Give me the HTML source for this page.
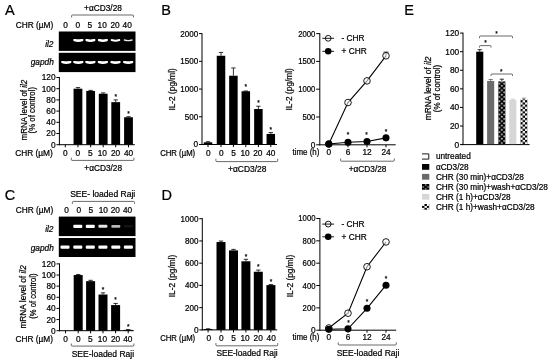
<!DOCTYPE html>
<html><head><meta charset="utf-8"><title>Figure</title>
<style>
html,body{margin:0;padding:0;background:#fff;}
svg{display:block;filter:blur(0.3px);font-family:"Liberation Sans",sans-serif;}
text{fill:#000;stroke:#000;stroke-width:0.22px;}
</style></head><body>
<svg width="550" height="363" viewBox="0 0 550 363">
<defs>
<filter id="b" x="-20%" y="-100%" width="140%" height="300%"><feGaussianBlur stdDeviation="0.45"/></filter>
<pattern id="chk1" width="2.4" height="2.4" patternUnits="userSpaceOnUse"><rect width="2.4" height="2.4" fill="#000"/><rect x="0" y="0" width="1.2" height="1.2" fill="#aaa"/><rect x="1.2" y="1.2" width="1.2" height="1.2" fill="#aaa"/></pattern>
<pattern id="chk2" width="3" height="3" patternUnits="userSpaceOnUse"><rect width="3" height="3" fill="#fff"/><rect x="0" y="0" width="1.5" height="1.5" fill="#000"/><rect x="1.5" y="1.5" width="1.5" height="1.5" fill="#000"/></pattern>
</defs>
<rect width="550" height="363" fill="#fff"/>
<text x="5.1" y="15.1" font-size="14.5" text-anchor="start" >A</text>
<text x="161.3" y="15.1" font-size="14.5" text-anchor="start" >B</text>
<text x="404.2" y="15.3" font-size="14.5" text-anchor="start" >E</text>
<text x="4.7" y="199.6" font-size="14.5" text-anchor="start" >C</text>
<text x="161.5" y="199.7" font-size="14.5" text-anchor="start" >D</text>
<text x="103.0" y="10.6" font-size="8.3" text-anchor="middle" >+αCD3/28</text>
<path d="M71.6,17.5 V15.9 Q71.6,15.0 72.5,15.0 H132.6 Q133.5,15.0 133.5,15.9 V17.5" fill="none" stroke="#2a2a2a" stroke-width="0.7"/>
<text x="15.8" y="27.9" font-size="8.3" text-anchor="start" >CHR (µM)</text>
<text x="65.5" y="27.9" font-size="8.3" text-anchor="middle" >0</text>
<text x="77.7" y="27.9" font-size="8.3" text-anchor="middle" >0</text>
<text x="89.8" y="27.9" font-size="8.3" text-anchor="middle" >5</text>
<text x="102.2" y="27.9" font-size="8.3" text-anchor="middle" >10</text>
<text x="115" y="27.9" font-size="8.3" text-anchor="middle" >20</text>
<text x="127.2" y="27.9" font-size="8.3" text-anchor="middle" >40</text>
<rect x="58.80" y="31.50" width="76.70" height="19.40" fill="#000" />
<rect x="58.80" y="52.80" width="76.70" height="19.30" fill="#000" />
<text x="53.5" y="46.9" font-size="8.3" text-anchor="end" font-style="italic">il2</text>
<text x="53.8" y="65.4" font-size="8.3" text-anchor="end" font-style="italic">gapdh</text>
<path d="M74.50,40.00 Q78.30,41.30 82.10,40.00" fill="none" stroke="#fff" stroke-width="2.6" stroke-linecap="round" opacity="1" filter="url(#b)"/>
<path d="M86.60,40.00 Q90.40,41.30 94.20,40.00" fill="none" stroke="#fff" stroke-width="2.5" stroke-linecap="round" opacity="1" filter="url(#b)"/>
<path d="M99.10,40.00 Q102.90,41.30 106.70,40.00" fill="none" stroke="#fff" stroke-width="2.5" stroke-linecap="round" opacity="1" filter="url(#b)"/>
<path d="M111.70,40.00 Q115.50,41.30 119.30,40.00" fill="none" stroke="#fff" stroke-width="2.0" stroke-linecap="round" opacity="1" filter="url(#b)"/>
<path d="M124.40,40.00 Q128.20,41.30 132.00,40.00" fill="none" stroke="#fff" stroke-width="1.4" stroke-linecap="round" opacity="0.9" filter="url(#b)"/>
<path d="M62.50,62.00 Q66.30,63.30 70.10,62.00" fill="none" stroke="#fff" stroke-width="2.7" stroke-linecap="round" opacity="1" filter="url(#b)"/>
<path d="M74.50,62.00 Q78.30,63.30 82.10,62.00" fill="none" stroke="#fff" stroke-width="2.7" stroke-linecap="round" opacity="1" filter="url(#b)"/>
<path d="M86.60,62.00 Q90.40,63.30 94.20,62.00" fill="none" stroke="#fff" stroke-width="2.7" stroke-linecap="round" opacity="1" filter="url(#b)"/>
<path d="M99.10,62.00 Q102.90,63.30 106.70,62.00" fill="none" stroke="#fff" stroke-width="2.7" stroke-linecap="round" opacity="1" filter="url(#b)"/>
<path d="M111.70,62.00 Q115.50,63.30 119.30,62.00" fill="none" stroke="#fff" stroke-width="2.7" stroke-linecap="round" opacity="1" filter="url(#b)"/>
<path d="M124.40,62.00 Q128.20,63.30 132.00,62.00" fill="none" stroke="#fff" stroke-width="2.7" stroke-linecap="round" opacity="1" filter="url(#b)"/>
<text x="102.7" y="196.9" font-size="8.55" text-anchor="middle" >SEE- loaded Raji</text>
<path d="M72.4,203.9 V202.3 Q72.4,201.4 73.30000000000001,201.4 H133.6 Q134.5,201.4 134.5,202.3 V203.9" fill="none" stroke="#2a2a2a" stroke-width="0.7"/>
<text x="15.8" y="212.9" font-size="8.3" text-anchor="start" >CHR (µM)</text>
<text x="66.5" y="212.9" font-size="8.3" text-anchor="middle" >0</text>
<text x="78.9" y="212.9" font-size="8.3" text-anchor="middle" >0</text>
<text x="90.8" y="212.9" font-size="8.3" text-anchor="middle" >5</text>
<text x="103.3" y="212.9" font-size="8.3" text-anchor="middle" >10</text>
<text x="115.3" y="212.9" font-size="8.3" text-anchor="middle" >20</text>
<text x="127.6" y="212.9" font-size="8.3" text-anchor="middle" >40</text>
<rect x="58.80" y="216.60" width="76.70" height="19.50" fill="#000" />
<rect x="58.80" y="238.00" width="76.70" height="19.00" fill="#000" />
<text x="53.5" y="232.2" font-size="8.3" text-anchor="end" font-style="italic">il2</text>
<text x="53.8" y="251.2" font-size="8.3" text-anchor="end" font-style="italic">gapdh</text>
<rect x="73.30" y="224.70" width="9" height="3.2" rx="1" fill="#fff" opacity="1" filter="url(#b)"/>
<rect x="85.80" y="224.70" width="9" height="3.2" rx="1" fill="#fff" opacity="1" filter="url(#b)"/>
<rect x="98.40" y="224.80" width="9" height="3.0" rx="1" fill="#fff" opacity="0.9" filter="url(#b)"/>
<rect x="111.30" y="224.90" width="9" height="2.8" rx="1" fill="#fff" opacity="0.72" filter="url(#b)"/>
<rect x="123.90" y="225.05" width="9" height="2.5" rx="1" fill="#fff" opacity="0.08" filter="url(#b)"/>
<rect x="60.50" y="245.55" width="9" height="3.3" rx="1" fill="#fff" opacity="1" filter="url(#b)"/>
<rect x="73.30" y="245.55" width="9" height="3.3" rx="1" fill="#fff" opacity="1" filter="url(#b)"/>
<rect x="85.80" y="245.55" width="9" height="3.3" rx="1" fill="#fff" opacity="1" filter="url(#b)"/>
<rect x="98.40" y="245.55" width="9" height="3.3" rx="1" fill="#fff" opacity="1" filter="url(#b)"/>
<rect x="111.30" y="245.55" width="9" height="3.3" rx="1" fill="#fff" opacity="1" filter="url(#b)"/>
<rect x="123.90" y="245.55" width="9" height="3.3" rx="1" fill="#fff" opacity="1" filter="url(#b)"/>
<rect x="60.90" y="144.70" width="8.80" height="0.00" fill="#000" />
<rect x="73.55" y="88.70" width="8.80" height="56.00" fill="#000" />
<line x1="77.95" y1="88.69999999999999" x2="77.95" y2="87.57999999999998" stroke="#000" stroke-width="0.8"/>
<line x1="75.75" y1="87.57999999999998" x2="80.15" y2="87.57999999999998" stroke="#000" stroke-width="0.8"/>
<rect x="86.25" y="90.94" width="8.80" height="53.76" fill="#000" />
<line x1="90.65" y1="90.94" x2="90.65" y2="90.38" stroke="#000" stroke-width="0.8"/>
<line x1="88.45" y1="90.38" x2="92.85000000000001" y2="90.38" stroke="#000" stroke-width="0.8"/>
<rect x="98.80" y="93.74" width="8.80" height="50.96" fill="#000" />
<line x1="103.2" y1="93.74" x2="103.2" y2="92.89999999999999" stroke="#000" stroke-width="0.8"/>
<line x1="101.0" y1="92.89999999999999" x2="105.4" y2="92.89999999999999" stroke="#000" stroke-width="0.8"/>
<rect x="111.30" y="102.14" width="8.80" height="42.56" fill="#000" />
<line x1="115.7" y1="102.13999999999999" x2="115.7" y2="99.89999999999999" stroke="#000" stroke-width="0.8"/>
<line x1="113.5" y1="99.89999999999999" x2="117.9" y2="99.89999999999999" stroke="#000" stroke-width="0.8"/>
<rect x="124.10" y="117.26" width="8.80" height="27.44" fill="#000" />
<line x1="128.5" y1="117.25999999999999" x2="128.5" y2="116.69999999999999" stroke="#000" stroke-width="0.8"/>
<line x1="126.3" y1="116.69999999999999" x2="130.7" y2="116.69999999999999" stroke="#000" stroke-width="0.8"/>
<line x1="59.4" y1="77.0" x2="59.4" y2="145.2" stroke="#000" stroke-width="1.0"/>
<line x1="56.4" y1="144.7" x2="59.4" y2="144.7" stroke="#000" stroke-width="1.0"/>
<text x="55.6" y="147.688" font-size="8.3" text-anchor="end" >0</text>
<line x1="56.4" y1="133.5" x2="59.4" y2="133.5" stroke="#000" stroke-width="1.0"/>
<text x="55.6" y="136.488" font-size="8.3" text-anchor="end" >20</text>
<line x1="56.4" y1="122.29999999999998" x2="59.4" y2="122.29999999999998" stroke="#000" stroke-width="1.0"/>
<text x="55.6" y="125.28799999999998" font-size="8.3" text-anchor="end" >40</text>
<line x1="56.4" y1="111.1" x2="59.4" y2="111.1" stroke="#000" stroke-width="1.0"/>
<text x="55.6" y="114.088" font-size="8.3" text-anchor="end" >60</text>
<line x1="56.4" y1="99.89999999999999" x2="59.4" y2="99.89999999999999" stroke="#000" stroke-width="1.0"/>
<text x="55.6" y="102.88799999999999" font-size="8.3" text-anchor="end" >80</text>
<line x1="56.4" y1="88.69999999999999" x2="59.4" y2="88.69999999999999" stroke="#000" stroke-width="1.0"/>
<text x="55.6" y="91.68799999999999" font-size="8.3" text-anchor="end" >100</text>
<line x1="56.4" y1="77.5" x2="59.4" y2="77.5" stroke="#000" stroke-width="1.0"/>
<text x="55.6" y="80.488" font-size="8.3" text-anchor="end" >120</text>
<line x1="58.9" y1="144.7" x2="134.8" y2="144.7" stroke="#000" stroke-width="1.0"/>
<line x1="65.3" y1="144.7" x2="65.3" y2="147.29999999999998" stroke="#000" stroke-width="1.0"/>
<line x1="77.95" y1="144.7" x2="77.95" y2="147.29999999999998" stroke="#000" stroke-width="1.0"/>
<line x1="90.65" y1="144.7" x2="90.65" y2="147.29999999999998" stroke="#000" stroke-width="1.0"/>
<line x1="103.2" y1="144.7" x2="103.2" y2="147.29999999999998" stroke="#000" stroke-width="1.0"/>
<line x1="115.7" y1="144.7" x2="115.7" y2="147.29999999999998" stroke="#000" stroke-width="1.0"/>
<line x1="128.5" y1="144.7" x2="128.5" y2="147.29999999999998" stroke="#000" stroke-width="1.0"/>
<text x="115.7" y="99.44" font-size="6.5" text-anchor="middle" >*</text>
<text x="128.5" y="116.24" font-size="6.5" text-anchor="middle" >*</text>
<text transform="translate(26.5,110.1) rotate(-90)" font-size="8.3" text-anchor="middle" textLength="60.6" lengthAdjust="spacingAndGlyphs">mRNA level of <tspan font-style="italic">il2</tspan></text>
<text transform="translate(35.4,110.2) rotate(-90)" font-size="8.3" text-anchor="middle" textLength="46.4" lengthAdjust="spacingAndGlyphs">(% of control)</text>
<text x="15.2" y="156.0" font-size="8.3" text-anchor="start" >CHR (µM)</text>
<text x="65.2" y="156.0" font-size="8.3" text-anchor="middle" >0</text>
<text x="77.8" y="156.0" font-size="8.3" text-anchor="middle" >0</text>
<text x="90.2" y="156.0" font-size="8.3" text-anchor="middle" >5</text>
<text x="102.3" y="156.0" font-size="8.3" text-anchor="middle" >10</text>
<text x="115.5" y="156.0" font-size="8.3" text-anchor="middle" >20</text>
<text x="128.6" y="156.0" font-size="8.3" text-anchor="middle" >40</text>
<path d="M71.3,157.70000000000002 V159.5 Q71.3,160.4 72.2,160.4 H133.0 Q133.9,160.4 133.9,159.5 V157.70000000000002" fill="none" stroke="#2a2a2a" stroke-width="0.7"/>
<text x="103.2" y="171.4" font-size="8.3" text-anchor="middle" >+αCD3/28</text>
<rect x="61.00" y="330.70" width="9.00" height="0.00" fill="#000" />
<rect x="73.70" y="275.03" width="9.00" height="55.67" fill="#000" />
<line x1="78.2" y1="275.0333333333333" x2="78.2" y2="274.47666666666663" stroke="#000" stroke-width="0.8"/>
<line x1="76.0" y1="274.47666666666663" x2="80.4" y2="274.47666666666663" stroke="#000" stroke-width="0.8"/>
<rect x="86.10" y="281.16" width="9.00" height="49.54" fill="#000" />
<line x1="90.6" y1="281.15666666666664" x2="90.6" y2="280.32166666666666" stroke="#000" stroke-width="0.8"/>
<line x1="88.39999999999999" y1="280.32166666666666" x2="92.8" y2="280.32166666666666" stroke="#000" stroke-width="0.8"/>
<rect x="98.50" y="294.52" width="9.00" height="36.18" fill="#000" />
<line x1="103.0" y1="294.51666666666665" x2="103.0" y2="292.84666666666664" stroke="#000" stroke-width="0.8"/>
<line x1="100.8" y1="292.84666666666664" x2="105.2" y2="292.84666666666664" stroke="#000" stroke-width="0.8"/>
<rect x="111.10" y="305.09" width="9.00" height="25.61" fill="#000" />
<line x1="115.6" y1="305.0933333333333" x2="115.6" y2="303.4233333333333" stroke="#000" stroke-width="0.8"/>
<line x1="113.39999999999999" y1="303.4233333333333" x2="117.8" y2="303.4233333333333" stroke="#000" stroke-width="0.8"/>
<rect x="123.70" y="329.87" width="9.00" height="0.83" fill="#000" />
<line x1="128.2" y1="329.865" x2="128.2" y2="329.5866666666667" stroke="#000" stroke-width="0.8"/>
<line x1="125.99999999999999" y1="329.5866666666667" x2="130.39999999999998" y2="329.5866666666667" stroke="#000" stroke-width="0.8"/>
<line x1="59.5" y1="263.4" x2="59.5" y2="331.2" stroke="#000" stroke-width="1.0"/>
<line x1="56.5" y1="330.7" x2="59.5" y2="330.7" stroke="#000" stroke-width="1.0"/>
<text x="55.7" y="333.688" font-size="8.3" text-anchor="end" >0</text>
<line x1="56.5" y1="319.56666666666666" x2="59.5" y2="319.56666666666666" stroke="#000" stroke-width="1.0"/>
<text x="55.7" y="322.55466666666666" font-size="8.3" text-anchor="end" >20</text>
<line x1="56.5" y1="308.43333333333334" x2="59.5" y2="308.43333333333334" stroke="#000" stroke-width="1.0"/>
<text x="55.7" y="311.42133333333334" font-size="8.3" text-anchor="end" >40</text>
<line x1="56.5" y1="297.29999999999995" x2="59.5" y2="297.29999999999995" stroke="#000" stroke-width="1.0"/>
<text x="55.7" y="300.28799999999995" font-size="8.3" text-anchor="end" >60</text>
<line x1="56.5" y1="286.16666666666663" x2="59.5" y2="286.16666666666663" stroke="#000" stroke-width="1.0"/>
<text x="55.7" y="289.1546666666666" font-size="8.3" text-anchor="end" >80</text>
<line x1="56.5" y1="275.0333333333333" x2="59.5" y2="275.0333333333333" stroke="#000" stroke-width="1.0"/>
<text x="55.7" y="278.0213333333333" font-size="8.3" text-anchor="end" >100</text>
<line x1="56.5" y1="263.9" x2="59.5" y2="263.9" stroke="#000" stroke-width="1.0"/>
<text x="55.7" y="266.888" font-size="8.3" text-anchor="end" >120</text>
<line x1="59.0" y1="330.7" x2="133.8" y2="330.7" stroke="#000" stroke-width="1.0"/>
<line x1="65.5" y1="330.7" x2="65.5" y2="333.3" stroke="#000" stroke-width="1.0"/>
<line x1="78.2" y1="330.7" x2="78.2" y2="333.3" stroke="#000" stroke-width="1.0"/>
<line x1="90.6" y1="330.7" x2="90.6" y2="333.3" stroke="#000" stroke-width="1.0"/>
<line x1="103.0" y1="330.7" x2="103.0" y2="333.3" stroke="#000" stroke-width="1.0"/>
<line x1="115.6" y1="330.7" x2="115.6" y2="333.3" stroke="#000" stroke-width="1.0"/>
<line x1="128.2" y1="330.7" x2="128.2" y2="333.3" stroke="#000" stroke-width="1.0"/>
<text x="103.0" y="291.58" font-size="6.5" text-anchor="middle" >*</text>
<text x="115.6" y="302.46" font-size="6.5" text-anchor="middle" >*</text>
<text x="128.2" y="328.62" font-size="6.5" text-anchor="middle" >*</text>
<text transform="translate(26.3,296.9) rotate(-90)" font-size="8.3" text-anchor="middle" textLength="63.4" lengthAdjust="spacingAndGlyphs">mRNA level of <tspan font-style="italic">il2</tspan></text>
<text transform="translate(35.6,296.1) rotate(-90)" font-size="8.3" text-anchor="middle" textLength="45.2" lengthAdjust="spacingAndGlyphs">(% of control)</text>
<text x="15.5" y="342.1" font-size="8.3" text-anchor="start" >CHR (µM)</text>
<text x="65.5" y="342.1" font-size="8.3" text-anchor="middle" >0</text>
<text x="78.2" y="342.1" font-size="8.3" text-anchor="middle" >0</text>
<text x="90.2" y="342.1" font-size="8.3" text-anchor="middle" >5</text>
<text x="102.4" y="342.1" font-size="8.3" text-anchor="middle" >10</text>
<text x="115.6" y="342.1" font-size="8.3" text-anchor="middle" >20</text>
<text x="127.8" y="342.1" font-size="8.3" text-anchor="middle" >40</text>
<path d="M71.3,343.5 V345.20000000000005 Q71.3,346.1 72.2,346.1 H133.0 Q133.9,346.1 133.9,345.20000000000005 V343.5" fill="none" stroke="#2a2a2a" stroke-width="0.7"/>
<text x="102.9" y="356.7" font-size="8.5" text-anchor="middle" >SEE-loaded Raji</text>
<rect x="203.75" y="142.28" width="8.50" height="2.22" fill="#000" />
<line x1="208.0" y1="142.282" x2="208.0" y2="141.72750000000002" stroke="#000" stroke-width="0.8"/>
<line x1="205.8" y1="141.72750000000002" x2="210.2" y2="141.72750000000002" stroke="#000" stroke-width="0.8"/>
<rect x="216.75" y="55.78" width="8.50" height="88.72" fill="#000" />
<line x1="221.0" y1="55.77999999999999" x2="221.0" y2="52.45299999999999" stroke="#000" stroke-width="0.8"/>
<line x1="218.8" y1="52.45299999999999" x2="223.2" y2="52.45299999999999" stroke="#000" stroke-width="0.8"/>
<rect x="229.15" y="75.74" width="8.50" height="68.76" fill="#000" />
<line x1="233.4" y1="75.74199999999999" x2="233.4" y2="67.97899999999998" stroke="#000" stroke-width="0.8"/>
<line x1="231.20000000000002" y1="67.97899999999998" x2="235.6" y2="67.97899999999998" stroke="#000" stroke-width="0.8"/>
<rect x="241.55" y="91.27" width="8.50" height="53.23" fill="#000" />
<line x1="245.8" y1="91.268" x2="245.8" y2="90.99075" stroke="#000" stroke-width="0.8"/>
<line x1="243.60000000000002" y1="90.99075" x2="248.0" y2="90.99075" stroke="#000" stroke-width="0.8"/>
<rect x="254.15" y="109.01" width="8.50" height="35.49" fill="#000" />
<line x1="258.4" y1="109.012" x2="258.4" y2="106.2395" stroke="#000" stroke-width="0.8"/>
<line x1="256.2" y1="106.2395" x2="260.59999999999997" y2="106.2395" stroke="#000" stroke-width="0.8"/>
<rect x="266.55" y="133.96" width="8.50" height="10.54" fill="#000" />
<line x1="270.8" y1="133.9645" x2="270.8" y2="132.57825" stroke="#000" stroke-width="0.8"/>
<line x1="268.6" y1="132.57825" x2="273.0" y2="132.57825" stroke="#000" stroke-width="0.8"/>
<line x1="202.0" y1="33.099999999999994" x2="202.0" y2="145.0" stroke="#000" stroke-width="1.0"/>
<line x1="199.0" y1="144.5" x2="202.0" y2="144.5" stroke="#000" stroke-width="1.0"/>
<text x="198.2" y="147.488" font-size="8.3" text-anchor="end" >0</text>
<line x1="199.0" y1="116.775" x2="202.0" y2="116.775" stroke="#000" stroke-width="1.0"/>
<text x="198.2" y="119.763" font-size="8.3" text-anchor="end"  textLength="13.43" lengthAdjust="spacingAndGlyphs">500</text>
<line x1="199.0" y1="89.05" x2="202.0" y2="89.05" stroke="#000" stroke-width="1.0"/>
<text x="198.2" y="92.038" font-size="8.3" text-anchor="end"  textLength="17.91" lengthAdjust="spacingAndGlyphs">1000</text>
<line x1="199.0" y1="61.32499999999999" x2="202.0" y2="61.32499999999999" stroke="#000" stroke-width="1.0"/>
<text x="198.2" y="64.31299999999999" font-size="8.3" text-anchor="end"  textLength="17.91" lengthAdjust="spacingAndGlyphs">1500</text>
<line x1="199.0" y1="33.599999999999994" x2="202.0" y2="33.599999999999994" stroke="#000" stroke-width="1.0"/>
<text x="198.2" y="36.587999999999994" font-size="8.3" text-anchor="end"  textLength="17.91" lengthAdjust="spacingAndGlyphs">2000</text>
<line x1="201.5" y1="144.5" x2="277" y2="144.5" stroke="#000" stroke-width="1.0"/>
<line x1="208.0" y1="144.5" x2="208.0" y2="147.1" stroke="#000" stroke-width="1.0"/>
<line x1="221.0" y1="144.5" x2="221.0" y2="147.1" stroke="#000" stroke-width="1.0"/>
<line x1="233.4" y1="144.5" x2="233.4" y2="147.1" stroke="#000" stroke-width="1.0"/>
<line x1="245.8" y1="144.5" x2="245.8" y2="147.1" stroke="#000" stroke-width="1.0"/>
<line x1="258.4" y1="144.5" x2="258.4" y2="147.1" stroke="#000" stroke-width="1.0"/>
<line x1="270.8" y1="144.5" x2="270.8" y2="147.1" stroke="#000" stroke-width="1.0"/>
<text x="245.8" y="89.23" font-size="6.5" text-anchor="middle" >*</text>
<text x="258.4" y="105.48" font-size="6.5" text-anchor="middle" >*</text>
<text x="270.8" y="131.52" font-size="6.5" text-anchor="middle" >*</text>
<text transform="translate(175.3,89.4) rotate(-90)" font-size="8.3" text-anchor="middle">IL-2 (pg/ml)</text>
<text x="160.2" y="155.8" font-size="8.3" text-anchor="start"  textLength="35.00" lengthAdjust="spacingAndGlyphs">CHR (µM)</text>
<text x="208.2" y="155.8" font-size="8.3" text-anchor="middle" >0</text>
<text x="221.2" y="155.8" font-size="8.3" text-anchor="middle" >0</text>
<text x="233.5" y="155.8" font-size="8.3" text-anchor="middle" >5</text>
<text x="245.0" y="155.8" font-size="8.3" text-anchor="middle" >10</text>
<text x="257.8" y="155.8" font-size="8.3" text-anchor="middle" >20</text>
<text x="270.8" y="155.8" font-size="8.3" text-anchor="middle" >40</text>
<path d="M215.9,158.79999999999998 V160.7 Q215.9,161.6 216.8,161.6 H276.8 Q277.7,161.6 277.7,160.7 V158.79999999999998" fill="none" stroke="#2a2a2a" stroke-width="0.7"/>
<text x="247.2" y="172.3" font-size="8.45" text-anchor="middle" >+αCD3/28</text>
<rect x="203.60" y="329.01" width="9.00" height="0.89" fill="#000" />
<line x1="208.1" y1="329.0104" x2="208.1" y2="328.788" stroke="#000" stroke-width="0.8"/>
<line x1="205.9" y1="328.788" x2="210.29999999999998" y2="328.788" stroke="#000" stroke-width="0.8"/>
<rect x="216.50" y="242.05" width="9.00" height="87.85" fill="#000" />
<line x1="221.0" y1="242.05199999999996" x2="221.0" y2="241.05119999999997" stroke="#000" stroke-width="0.8"/>
<line x1="218.8" y1="241.05119999999997" x2="223.2" y2="241.05119999999997" stroke="#000" stroke-width="0.8"/>
<rect x="229.00" y="250.39" width="9.00" height="79.51" fill="#000" />
<line x1="233.5" y1="250.392" x2="233.5" y2="249.3912" stroke="#000" stroke-width="0.8"/>
<line x1="231.3" y1="249.3912" x2="235.7" y2="249.3912" stroke="#000" stroke-width="0.8"/>
<rect x="241.40" y="261.29" width="9.00" height="68.61" fill="#000" />
<line x1="245.9" y1="261.28959999999995" x2="245.9" y2="259.28799999999995" stroke="#000" stroke-width="0.8"/>
<line x1="243.70000000000002" y1="259.28799999999995" x2="248.1" y2="259.28799999999995" stroke="#000" stroke-width="0.8"/>
<rect x="253.80" y="271.74" width="9.00" height="58.16" fill="#000" />
<line x1="258.3" y1="271.7424" x2="258.3" y2="270.07439999999997" stroke="#000" stroke-width="0.8"/>
<line x1="256.1" y1="270.07439999999997" x2="260.5" y2="270.07439999999997" stroke="#000" stroke-width="0.8"/>
<rect x="266.40" y="285.09" width="9.00" height="44.81" fill="#000" />
<line x1="270.9" y1="285.08639999999997" x2="270.9" y2="284.5304" stroke="#000" stroke-width="0.8"/>
<line x1="268.7" y1="284.5304" x2="273.09999999999997" y2="284.5304" stroke="#000" stroke-width="0.8"/>
<line x1="202.3" y1="218.2" x2="202.3" y2="330.4" stroke="#000" stroke-width="1.0"/>
<line x1="199.3" y1="329.9" x2="202.3" y2="329.9" stroke="#000" stroke-width="1.0"/>
<text x="198.5" y="332.888" font-size="8.3" text-anchor="end" >0</text>
<line x1="199.3" y1="307.65999999999997" x2="202.3" y2="307.65999999999997" stroke="#000" stroke-width="1.0"/>
<text x="198.5" y="310.64799999999997" font-size="8.3" text-anchor="end"  textLength="13.43" lengthAdjust="spacingAndGlyphs">200</text>
<line x1="199.3" y1="285.41999999999996" x2="202.3" y2="285.41999999999996" stroke="#000" stroke-width="1.0"/>
<text x="198.5" y="288.40799999999996" font-size="8.3" text-anchor="end"  textLength="13.43" lengthAdjust="spacingAndGlyphs">400</text>
<line x1="199.3" y1="263.17999999999995" x2="202.3" y2="263.17999999999995" stroke="#000" stroke-width="1.0"/>
<text x="198.5" y="266.16799999999995" font-size="8.3" text-anchor="end"  textLength="13.43" lengthAdjust="spacingAndGlyphs">600</text>
<line x1="199.3" y1="240.94" x2="202.3" y2="240.94" stroke="#000" stroke-width="1.0"/>
<text x="198.5" y="243.928" font-size="8.3" text-anchor="end"  textLength="13.43" lengthAdjust="spacingAndGlyphs">800</text>
<line x1="199.3" y1="218.7" x2="202.3" y2="218.7" stroke="#000" stroke-width="1.0"/>
<text x="198.5" y="221.688" font-size="8.3" text-anchor="end"  textLength="17.91" lengthAdjust="spacingAndGlyphs">1000</text>
<line x1="201.8" y1="329.9" x2="277.2" y2="329.9" stroke="#000" stroke-width="1.0"/>
<line x1="208.1" y1="329.9" x2="208.1" y2="332.5" stroke="#000" stroke-width="1.0"/>
<line x1="221.0" y1="329.9" x2="221.0" y2="332.5" stroke="#000" stroke-width="1.0"/>
<line x1="233.5" y1="329.9" x2="233.5" y2="332.5" stroke="#000" stroke-width="1.0"/>
<line x1="245.9" y1="329.9" x2="245.9" y2="332.5" stroke="#000" stroke-width="1.0"/>
<line x1="258.3" y1="329.9" x2="258.3" y2="332.5" stroke="#000" stroke-width="1.0"/>
<line x1="270.9" y1="329.9" x2="270.9" y2="332.5" stroke="#000" stroke-width="1.0"/>
<text x="245.9" y="258.53" font-size="6.5" text-anchor="middle" >*</text>
<text x="258.3" y="269.31" font-size="6.5" text-anchor="middle" >*</text>
<text x="270.9" y="283.57" font-size="6.5" text-anchor="middle" >*</text>
<text transform="translate(174.6,276) rotate(-90)" font-size="8.3" text-anchor="middle">IL-2 (pg/ml)</text>
<text x="160.2" y="340.6" font-size="8.3" text-anchor="start"  textLength="35.00" lengthAdjust="spacingAndGlyphs">CHR (µM)</text>
<text x="208.8" y="340.6" font-size="8.3" text-anchor="middle" >0</text>
<text x="221.2" y="340.6" font-size="8.3" text-anchor="middle" >0</text>
<text x="233.5" y="340.6" font-size="8.3" text-anchor="middle" >5</text>
<text x="245.0" y="340.6" font-size="8.3" text-anchor="middle" >10</text>
<text x="258.2" y="340.6" font-size="8.3" text-anchor="middle" >20</text>
<text x="271.2" y="340.6" font-size="8.3" text-anchor="middle" >40</text>
<path d="M215.9,343.1 V344.90000000000003 Q215.9,345.8 216.8,345.8 H276.8 Q277.7,345.8 277.7,344.90000000000003 V343.1" fill="none" stroke="#2a2a2a" stroke-width="0.7"/>
<text x="247.0" y="356.3" font-size="8.35" text-anchor="middle" >SEE-loaded Raji</text>
<line x1="319.8" y1="33.099999999999994" x2="319.8" y2="145.3" stroke="#000" stroke-width="1.0"/>
<line x1="316.2" y1="144.8" x2="319.8" y2="144.8" stroke="#000" stroke-width="1.0"/>
<text x="315.4" y="147.788" font-size="8.3" text-anchor="end" >0</text>
<line x1="316.2" y1="117.0" x2="319.8" y2="117.0" stroke="#000" stroke-width="1.0"/>
<text x="315.4" y="119.988" font-size="8.3" text-anchor="end"  textLength="12.88" lengthAdjust="spacingAndGlyphs">500</text>
<line x1="316.2" y1="89.2" x2="319.8" y2="89.2" stroke="#000" stroke-width="1.0"/>
<text x="315.4" y="92.188" font-size="8.3" text-anchor="end"  textLength="17.17" lengthAdjust="spacingAndGlyphs">1000</text>
<line x1="316.2" y1="61.39999999999999" x2="319.8" y2="61.39999999999999" stroke="#000" stroke-width="1.0"/>
<text x="315.4" y="64.38799999999999" font-size="8.3" text-anchor="end"  textLength="17.17" lengthAdjust="spacingAndGlyphs">1500</text>
<line x1="316.2" y1="33.599999999999994" x2="319.8" y2="33.599999999999994" stroke="#000" stroke-width="1.0"/>
<text x="315.4" y="36.587999999999994" font-size="8.3" text-anchor="end"  textLength="17.17" lengthAdjust="spacingAndGlyphs">2000</text>
<line x1="319.3" y1="144.8" x2="395.7" y2="144.8" stroke="#000" stroke-width="1.0"/>
<line x1="328.8" y1="144.8" x2="328.8" y2="147.3" stroke="#000" stroke-width="1.0"/>
<line x1="348.0" y1="144.8" x2="348.0" y2="147.3" stroke="#000" stroke-width="1.0"/>
<line x1="367.0" y1="144.8" x2="367.0" y2="147.3" stroke="#000" stroke-width="1.0"/>
<line x1="386.0" y1="144.8" x2="386.0" y2="147.3" stroke="#000" stroke-width="1.0"/>
<polyline points="328.8,143.97 348.0,102.54 367.0,80.86 386.0,55.84" fill="none" stroke="#000" stroke-width="1.1"/>
<polyline points="328.8,143.97 348.0,142.30 367.0,141.46 386.0,137.85" fill="none" stroke="#000" stroke-width="1.1"/>
<line x1="386.0" y1="55.83999999999999" x2="386.0" y2="52.09519999999999" stroke="#000" stroke-width="0.8"/>
<line x1="383.5" y1="52.09519999999999" x2="388.5" y2="52.09519999999999" stroke="#000" stroke-width="0.8"/>
<circle cx="328.8" cy="143.97" r="3.3" fill="#fff" fill-opacity="0.55" stroke="#000" stroke-width="0.9"/>
<circle cx="348.0" cy="102.54" r="3.3" fill="#fff" fill-opacity="0.55" stroke="#000" stroke-width="0.9"/>
<circle cx="367.0" cy="80.86" r="3.3" fill="#fff" fill-opacity="0.55" stroke="#000" stroke-width="0.9"/>
<circle cx="386.0" cy="55.84" r="3.3" fill="#fff" fill-opacity="0.55" stroke="#000" stroke-width="0.9"/>
<circle cx="328.8" cy="143.97" r="3.55" fill="#000"/>
<circle cx="348.0" cy="142.30" r="3.55" fill="#000"/>
<circle cx="367.0" cy="141.46" r="3.55" fill="#000"/>
<circle cx="386.0" cy="137.85" r="3.55" fill="#000"/>
<circle cx="328.2" cy="38.3" r="2.9" fill="#fff" stroke="#000" stroke-width="0.9"/>
<line x1="322.3" y1="38.3" x2="334.09999999999997" y2="38.3" stroke="#000" stroke-width="0.9"/>
<line x1="322.3" y1="51.3" x2="334.09999999999997" y2="51.3" stroke="#000" stroke-width="0.9"/>
<circle cx="328.2" cy="51.3" r="3.3" fill="#000"/>
<text x="341.5" y="41.3" font-size="8.3" text-anchor="start" >- CHR</text>
<text x="341.5" y="54.3" font-size="8.3" text-anchor="start" >+ CHR</text>
<text x="347.9" y="137.44" font-size="6.5" text-anchor="middle" >*</text>
<text x="366.6" y="136.94" font-size="6.5" text-anchor="middle" >*</text>
<text x="386" y="133.74" font-size="6.5" text-anchor="middle" >*</text>
<text transform="translate(291.8,89.4) rotate(-90)" font-size="8.3" text-anchor="middle">IL-2 (pg/ml)</text>
<text x="319.3" y="155.0" font-size="8.3" text-anchor="end"  textLength="26.80" lengthAdjust="spacingAndGlyphs">time (h)</text>
<text x="328.8" y="155.2" font-size="8.3" text-anchor="middle" >0</text>
<text x="348.0" y="155.2" font-size="8.3" text-anchor="middle" >6</text>
<text x="367.0" y="155.2" font-size="8.3" text-anchor="middle" >12</text>
<text x="386.0" y="155.2" font-size="8.3" text-anchor="middle" >24</text>
<path d="M340.6,158.5 V160.29999999999998 Q340.6,161.2 341.5,161.2 H393.40000000000003 Q394.3,161.2 394.3,160.29999999999998 V158.5" fill="none" stroke="#2a2a2a" stroke-width="0.7"/>
<text x="367.6" y="172.3" font-size="8.3" text-anchor="middle" >+αCD3/28</text>
<line x1="319.9" y1="218.0" x2="319.9" y2="330.7" stroke="#000" stroke-width="1.0"/>
<line x1="316.29999999999995" y1="330.2" x2="319.9" y2="330.2" stroke="#000" stroke-width="1.0"/>
<text x="315.49999999999994" y="333.188" font-size="8.3" text-anchor="end" >0</text>
<line x1="316.29999999999995" y1="307.86" x2="319.9" y2="307.86" stroke="#000" stroke-width="1.0"/>
<text x="315.49999999999994" y="310.848" font-size="8.3" text-anchor="end"  textLength="12.88" lengthAdjust="spacingAndGlyphs">200</text>
<line x1="316.29999999999995" y1="285.52" x2="319.9" y2="285.52" stroke="#000" stroke-width="1.0"/>
<text x="315.49999999999994" y="288.508" font-size="8.3" text-anchor="end"  textLength="12.88" lengthAdjust="spacingAndGlyphs">400</text>
<line x1="316.29999999999995" y1="263.18" x2="319.9" y2="263.18" stroke="#000" stroke-width="1.0"/>
<text x="315.49999999999994" y="266.168" font-size="8.3" text-anchor="end"  textLength="12.88" lengthAdjust="spacingAndGlyphs">600</text>
<line x1="316.29999999999995" y1="240.83999999999997" x2="319.9" y2="240.83999999999997" stroke="#000" stroke-width="1.0"/>
<text x="315.49999999999994" y="243.82799999999997" font-size="8.3" text-anchor="end"  textLength="12.88" lengthAdjust="spacingAndGlyphs">800</text>
<line x1="316.29999999999995" y1="218.5" x2="319.9" y2="218.5" stroke="#000" stroke-width="1.0"/>
<text x="315.49999999999994" y="221.488" font-size="8.3" text-anchor="end"  textLength="17.17" lengthAdjust="spacingAndGlyphs">1000</text>
<line x1="319.4" y1="330.2" x2="396.2" y2="330.2" stroke="#000" stroke-width="1.0"/>
<line x1="328.8" y1="330.2" x2="328.8" y2="332.7" stroke="#000" stroke-width="1.0"/>
<line x1="348.0" y1="330.2" x2="348.0" y2="332.7" stroke="#000" stroke-width="1.0"/>
<line x1="367.0" y1="330.2" x2="367.0" y2="332.7" stroke="#000" stroke-width="1.0"/>
<line x1="386.0" y1="330.2" x2="386.0" y2="332.7" stroke="#000" stroke-width="1.0"/>
<polyline points="328.8,327.97 348.0,313.22 367.0,266.75 386.0,241.96" fill="none" stroke="#000" stroke-width="1.1"/>
<polyline points="328.8,329.31 348.0,328.75 367.0,308.31 386.0,285.18" fill="none" stroke="#000" stroke-width="1.1"/>
<circle cx="328.8" cy="327.97" r="3.3" fill="#fff" fill-opacity="0.55" stroke="#000" stroke-width="0.9"/>
<circle cx="348.0" cy="313.22" r="3.3" fill="#fff" fill-opacity="0.55" stroke="#000" stroke-width="0.9"/>
<circle cx="367.0" cy="266.75" r="3.3" fill="#fff" fill-opacity="0.55" stroke="#000" stroke-width="0.9"/>
<circle cx="386.0" cy="241.96" r="3.3" fill="#fff" fill-opacity="0.55" stroke="#000" stroke-width="0.9"/>
<circle cx="328.8" cy="329.31" r="3.55" fill="#000"/>
<circle cx="348.0" cy="328.75" r="3.55" fill="#000"/>
<circle cx="367.0" cy="308.31" r="3.55" fill="#000"/>
<circle cx="386.0" cy="285.18" r="3.55" fill="#000"/>
<circle cx="328.2" cy="224.1" r="2.9" fill="#fff" stroke="#000" stroke-width="0.9"/>
<line x1="322.3" y1="224.1" x2="334.09999999999997" y2="224.1" stroke="#000" stroke-width="0.9"/>
<line x1="322.3" y1="236.8" x2="334.09999999999997" y2="236.8" stroke="#000" stroke-width="0.9"/>
<circle cx="328.2" cy="236.8" r="3.3" fill="#000"/>
<text x="341.5" y="227.1" font-size="8.3" text-anchor="start" >- CHR</text>
<text x="341.5" y="239.8" font-size="8.3" text-anchor="start" >+ CHR</text>
<text x="348.6" y="325.04" font-size="6.5" text-anchor="middle" >*</text>
<text x="367" y="304.14" font-size="6.5" text-anchor="middle" >*</text>
<text x="386" y="281.24" font-size="6.5" text-anchor="middle" >*</text>
<text transform="translate(292.6,276) rotate(-90)" font-size="8.3" text-anchor="middle">IL-2 (pg/ml)</text>
<text x="319.3" y="340.4" font-size="8.3" text-anchor="end"  textLength="26.80" lengthAdjust="spacingAndGlyphs">time (h)</text>
<text x="328.8" y="340.4" font-size="8.3" text-anchor="middle" >0</text>
<text x="348.0" y="340.4" font-size="8.3" text-anchor="middle" >6</text>
<text x="367.0" y="340.4" font-size="8.3" text-anchor="middle" >12</text>
<text x="386.0" y="340.4" font-size="8.3" text-anchor="middle" >24</text>
<path d="M338.2,342.3 V344.1 Q338.2,345.0 339.09999999999997,345.0 H395.40000000000003 Q396.3,345.0 396.3,344.1 V342.3" fill="none" stroke="#2a2a2a" stroke-width="0.7"/>
<text x="368" y="356.2" font-size="8.55" text-anchor="middle" >SEE-loaded Raji</text>
<line x1="463" y1="32.599999999999994" x2="463" y2="145.1" stroke="#000" stroke-width="1.0"/>
<line x1="460.0" y1="144.6" x2="463" y2="144.6" stroke="#000" stroke-width="1.0"/>
<text x="459.2" y="147.588" font-size="8.3" text-anchor="end" >0</text>
<line x1="460.0" y1="126.01666666666665" x2="463" y2="126.01666666666665" stroke="#000" stroke-width="1.0"/>
<text x="459.2" y="129.00466666666665" font-size="8.3" text-anchor="end" >20</text>
<line x1="460.0" y1="107.43333333333332" x2="463" y2="107.43333333333332" stroke="#000" stroke-width="1.0"/>
<text x="459.2" y="110.42133333333332" font-size="8.3" text-anchor="end" >40</text>
<line x1="460.0" y1="88.85" x2="463" y2="88.85" stroke="#000" stroke-width="1.0"/>
<text x="459.2" y="91.838" font-size="8.3" text-anchor="end" >60</text>
<line x1="460.0" y1="70.26666666666665" x2="463" y2="70.26666666666665" stroke="#000" stroke-width="1.0"/>
<text x="459.2" y="73.25466666666665" font-size="8.3" text-anchor="end" >80</text>
<line x1="460.0" y1="51.68333333333332" x2="463" y2="51.68333333333332" stroke="#000" stroke-width="1.0"/>
<text x="459.2" y="54.67133333333332" font-size="8.3" text-anchor="end" >100</text>
<line x1="460.0" y1="33.099999999999994" x2="463" y2="33.099999999999994" stroke="#000" stroke-width="1.0"/>
<text x="459.2" y="36.087999999999994" font-size="8.3" text-anchor="end" >120</text>
<line x1="462.5" y1="144.6" x2="529.6" y2="144.6" stroke="#000" stroke-width="1.0"/>
<line x1="479.75" y1="51.68333333333332" x2="479.75" y2="49.639166666666654" stroke="#000" stroke-width="0.8"/>
<line x1="477.65" y1="49.639166666666654" x2="481.85" y2="49.639166666666654" stroke="#000" stroke-width="0.8"/>
<rect x="476.20" y="51.68" width="7.10" height="92.42" fill="#000" />
<line x1="490.65" y1="80.95208333333332" x2="490.65" y2="79.46541666666666" stroke="#555" stroke-width="0.8"/>
<line x1="488.54999999999995" y1="79.46541666666666" x2="492.75" y2="79.46541666666666" stroke="#555" stroke-width="0.8"/>
<rect x="487.10" y="80.95" width="7.10" height="63.15" fill="#6b6b6b" />
<line x1="501.85" y1="81.41666666666666" x2="501.85" y2="79.18666666666665" stroke="#000" stroke-width="0.8"/>
<line x1="499.75" y1="79.18666666666665" x2="503.95000000000005" y2="79.18666666666665" stroke="#000" stroke-width="0.8"/>
<pattern id="p1" x="498.300" y="144.200" width="4.733" height="4.400" patternUnits="userSpaceOnUse"><rect width="4.733" height="4.400" fill="#000"/><rect x="2.667" y="2.500" width="1.767" height="1.600" fill="#c8c8c8"/><rect x="0.300" y="0.300" width="1.767" height="1.600" fill="#c8c8c8"/></pattern>
<rect x="498.30" y="81.42" width="7.10" height="62.68" fill="url(#p1)" />
<line x1="512.8" y1="100.0" x2="512.8" y2="99.16375" stroke="#c4c4c4" stroke-width="0.8"/>
<line x1="510.69999999999993" y1="99.16375" x2="514.9" y2="99.16375" stroke="#c4c4c4" stroke-width="0.8"/>
<rect x="509.25" y="100.00" width="7.10" height="44.10" fill="#d6d6d6" />
<line x1="523.9" y1="99.34958333333333" x2="523.9" y2="98.14166666666667" stroke="#777" stroke-width="0.8"/>
<line x1="521.8" y1="98.14166666666667" x2="526.0" y2="98.14166666666667" stroke="#777" stroke-width="0.8"/>
<pattern id="p2" x="520.350" y="144.200" width="4.733" height="4.400" patternUnits="userSpaceOnUse"><rect width="4.733" height="4.400" fill="#fff"/><rect x="2.367" y="2.200" width="2.367" height="2.200" fill="#000"/><rect x="0.000" y="0.000" width="2.367" height="2.200" fill="#000"/></pattern>
<rect x="520.35" y="99.35" width="7.10" height="44.75" fill="url(#p2)" />
<path d="M479.5,38.2 V36.9 Q479.5,36.0 480.4,36.0 H511.6 Q512.5,36.0 512.5,36.9 V38.2" fill="none" stroke="#2a2a2a" stroke-width="0.7"/>
<text x="496.5" y="36.34" font-size="6.5" text-anchor="middle" >*</text>
<path d="M479.5,47.6 V46.5 Q479.5,45.6 480.4,45.6 H490.1 Q491,45.6 491,46.5 V47.6" fill="none" stroke="#2a2a2a" stroke-width="0.7"/>
<text x="485.6" y="45.24" font-size="6.5" text-anchor="middle" >*</text>
<path d="M491,76.0 V74.9 Q491,74.0 491.9,74.0 H511.6 Q512.5,74.0 512.5,74.9 V76.0" fill="none" stroke="#2a2a2a" stroke-width="0.7"/>
<text x="501.2" y="73.74" font-size="6.5" text-anchor="middle" >*</text>
<text transform="translate(430.6,88.4) rotate(-90)" font-size="8.3" text-anchor="middle" textLength="63.8" lengthAdjust="spacingAndGlyphs">mRNA level of <tspan font-style="italic">il2</tspan></text>
<text transform="translate(439.7,88.5) rotate(-90)" font-size="8.3" text-anchor="middle" textLength="47.5" lengthAdjust="spacingAndGlyphs">(% of control)</text>
<text x="435.9" y="159.3" font-size="8.25" text-anchor="start" >untreated</text>
<path d="M422,153.90 H428.8 V159.10 H422" fill="none" stroke="#000" stroke-width="0.9"/>
<text x="435.9" y="169.6" font-size="8.25" text-anchor="start" >αCD3/28</text>
<rect x="422.00" y="164.00" width="7.30" height="5.80" fill="#000" />
<text x="435.9" y="179.5" font-size="8.25" text-anchor="start" >CHR (30 min)+αCD3/28</text>
<rect x="422.00" y="173.90" width="7.30" height="5.80" fill="#6b6b6b" />
<text x="435.9" y="189.6" font-size="8.25" text-anchor="start" >CHR (30 min)+wash+αCD3/28</text>
<pattern id="p3" x="422.000" y="189.800" width="4.867" height="3.860" patternUnits="userSpaceOnUse"><rect width="4.867" height="3.860" fill="#000"/><rect x="2.833" y="2.330" width="1.633" height="1.130" fill="#c0c0c0"/><rect x="0.400" y="0.400" width="1.633" height="1.130" fill="#c0c0c0"/></pattern>
<rect x="422.00" y="184.00" width="7.30" height="5.80" fill="url(#p3)" />
<text x="435.9" y="199.5" font-size="8.25" text-anchor="start" >CHR (1 h)+αCD3/28</text>
<rect x="422.00" y="193.90" width="7.30" height="5.80" fill="#d6d6d6" />
<text x="435.9" y="209.6" font-size="8.25" text-anchor="start" >CHR (1 h)+wash+αCD3/28</text>
<pattern id="p4" x="422.000" y="209.800" width="4.867" height="3.860" patternUnits="userSpaceOnUse"><rect width="4.867" height="3.860" fill="#fff"/><rect x="2.433" y="1.930" width="2.433" height="1.930" fill="#000"/><rect x="0.000" y="0.000" width="2.433" height="1.930" fill="#000"/></pattern>
<rect x="422.00" y="204.00" width="7.30" height="5.80" fill="url(#p4)" />
</svg>
</body></html>
